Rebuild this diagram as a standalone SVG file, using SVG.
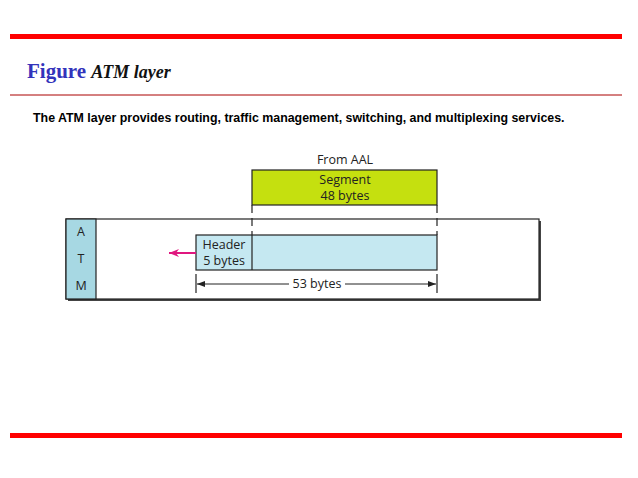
<svg xmlns="http://www.w3.org/2000/svg" width="638" height="478" viewBox="0 0 638 478">
<style>
.t{font-family:"Open Sans","DejaVu Sans",sans-serif;font-size:12.5px;fill:#222;text-anchor:middle}
.b{stroke:#222;stroke-width:1.2}
</style>
<defs>
<marker id="a" markerWidth="8" markerHeight="6" refX="8" refY="3" orient="auto-start-reverse" markerUnits="userSpaceOnUse"><path d="M8,3 L0,0 L0,6 Z" fill="#222"/></marker>
<marker id="p" markerWidth="10" markerHeight="8" refX="10" refY="4" orient="auto" markerUnits="userSpaceOnUse"><path d="M10,4 L0,0 L3,4 L0,8 Z" fill="#e0177f"/></marker>
</defs>
<rect x="10" y="34" width="612" height="5" fill="#f00"/>
<rect x="10" y="433" width="612" height="5" fill="#f00"/>
<text x="27" y="78" font-family="Liberation Serif,serif" font-weight="bold" font-size="21" fill="#3333bb">Figure <tspan font-style="italic" font-size="18" fill="#111">ATM layer</tspan></text>
<line x1="10" y1="95" x2="622" y2="95" stroke="#a00" stroke-width="1"/>
<text x="33" y="122" font-family="Liberation Sans,sans-serif" font-weight="bold" font-size="12.4" fill="#000">The ATM layer provides routing, traffic management, switching, and multiplexing services.</text>
<g id="atm">
<rect x="68" y="221" width="473" height="80" fill="#444"/>
<rect x="66" y="219" width="473" height="80" fill="#fff" class="b"/>
<rect x="66" y="219" width="30" height="80" fill="#a7d8e3" class="b"/>
<text class="t" x="81" y="236">A</text>
<text class="t" x="81" y="263">T</text>
<text class="t" x="81" y="290">M</text>
</g>
<g id="segment">
<text class="t" x="345" y="164">From AAL</text>
<rect x="252" y="170" width="185" height="35" fill="#c5e00f" class="b"/>
<text class="t" x="345" y="184">Segment</text>
<text class="t" x="345" y="200">48 bytes</text>
</g>
<g id="cell">
<rect x="196" y="235" width="241" height="35" fill="#c5e8f1" class="b"/>
<line x1="252" y1="235" x2="252" y2="270" class="b"/>
<text class="t" x="224" y="249">Header</text>
<text class="t" x="224" y="265">5 bytes</text>
</g>
<g id="connectors" fill="none">
<path d="M252,205V235M437,205V235" class="b" stroke-dasharray="8,5"/>
<line x1="196" y1="253" x2="169" y2="253" stroke="#e0177f" stroke-width="2" marker-end="url(#p)"/>
<path d="M196,274V293M437,274V293" class="b" stroke-width="1"/>
<line x1="197" y1="284" x2="289" y2="284" stroke="#222" marker-start="url(#a)"/>
<line x1="345" y1="284" x2="436" y2="284" stroke="#222" marker-end="url(#a)"/>
<text class="t" x="317" y="288" stroke="none">53 bytes</text>
</g>
</svg>
